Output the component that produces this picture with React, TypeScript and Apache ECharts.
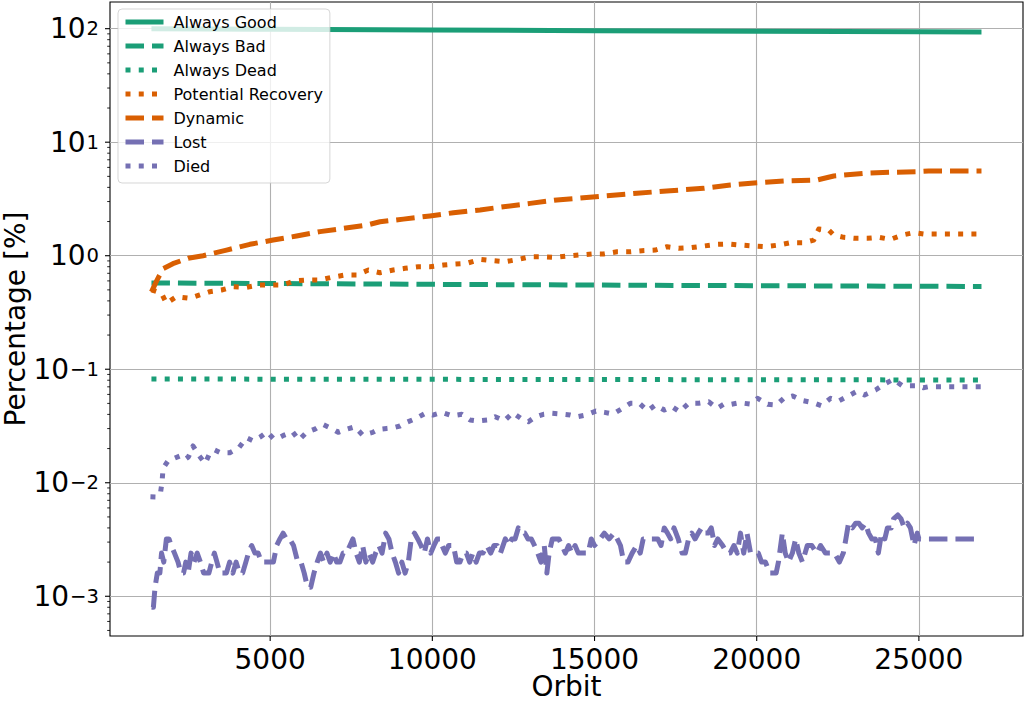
import { useEffect, useRef } from 'react';
import * as echarts from 'echarts';

const FONT = 'DejaVu Sans';
const GREEN = '#1b9e77';
const ORANGE = '#d95f02';
const PURPLE = '#7570b3';

// Axis ranges (orbit number, percentage on a log scale)
const ORBIT_MIN = 62;
const ORBIT_MAX = 28210;
const PCT_MIN = Math.pow(10, -3.35);
const PCT_MAX = Math.pow(10, 2.235);

const orbitTicks = [5000, 10000, 15000, 20000, 25000];
const decadeTicks = [0.001, 0.01, 0.1, 1, 10, 100];
const minorPctTicks = [
  0.0005, 0.0006, 0.0007, 0.0008, 0.0009,
  0.002, 0.003, 0.004, 0.005, 0.006, 0.007, 0.008, 0.009,
  0.02, 0.03, 0.04, 0.05, 0.06, 0.07, 0.08, 0.09,
  0.2, 0.3, 0.4, 0.5, 0.6, 0.7, 0.8, 0.9,
  2, 3, 4, 5, 6, 7, 8, 9,
  20, 30, 40, 50, 60, 70, 80, 90,
];

const seriesNames = [
  'Always Good',
  'Always Bad',
  'Always Dead',
  'Potential Recovery',
  'Dynamic',
  'Lost',
  'Died',
];

// [orbit, percentage]
const alwaysGood = [
  [1340, 99.6], [5000, 98.7], [10000, 97.4], [15000, 96.1], [20000, 95.0], [25000, 93.9], [26930, 93.5],
];
const alwaysBad = [
  [1340, 0.575], [6000, 0.567], [12000, 0.556], [18000, 0.547], [26930, 0.536],
];
const alwaysDead = [
  [1340, 0.082], [14000, 0.0812], [26930, 0.0804],
];
const potentialRecovery = [
  [1340, 0.5], [1648, 0.467], [1802, 0.381], [2111, 0.435], [2522, 0.421], [2830, 0.451],
  [3139, 0.482], [3500, 0.499], [3858, 0.533], [4271, 0.527], [4630, 0.552], [5043, 0.552],
  [5401, 0.552], [5762, 0.602], [6123, 0.611], [6534, 0.611], [6895, 0.645], [7306, 0.676],
  [7667, 0.676], [8025, 0.748], [8386, 0.708], [8796, 0.748], [9157, 0.774], [9568, 0.8],
  [9929, 0.8], [10340, 0.828], [10701, 0.845], [11062, 0.857], [11472, 0.929], [11883, 0.904],
  [12244, 0.885], [12654, 0.929], [13015, 0.98], [13426, 0.98], [13787, 0.968], [14148, 0.994],
  [14506, 1.014], [14920, 1.035], [15278, 1.035], [15691, 1.084], [16102, 1.084], [16463, 1.107],
  [16874, 1.122], [17235, 1.2], [17593, 1.162], [17954, 1.176], [18364, 1.217], [18778, 1.259],
  [19136, 1.268], [19497, 1.242], [19907, 1.217], [20269, 1.2], [20679, 1.242], [21040, 1.301],
  [21451, 1.301], [21759, 1.374], [21914, 1.72], [22222, 1.683], [22376, 1.521], [22685, 1.452],
  [23046, 1.423], [23407, 1.423], [23765, 1.452], [24126, 1.393], [24488, 1.521], [24846, 1.595],
  [25154, 1.553], [26930, 1.553],
];
const dynamic = [
  [1340, 0.48], [1500, 0.6], [1698, 0.77], [2000, 0.85], [2469, 0.95], [2932, 1.0],
  [3654, 1.12], [4374, 1.26], [5093, 1.375], [5815, 1.49], [6534, 1.63], [7253, 1.74],
  [7975, 1.86], [8386, 1.99], [9105, 2.1], [9929, 2.24], [10648, 2.39], [11472, 2.53],
  [12191, 2.7], [13015, 2.89], [13839, 3.1], [14456, 3.2], [15278, 3.36], [16308, 3.55],
  [17336, 3.74], [18364, 3.92], [19188, 4.2], [20012, 4.4], [21040, 4.58], [21864, 4.65],
  [22376, 5.04], [23302, 5.32], [24126, 5.43], [24948, 5.5], [25300, 5.57], [26930, 5.57],
];
const lost = [
  [1340, 0.0008], [1400, 0.0008], [1450, 0.0012], [1520, 0.0016], [1600, 0.0016], [1650, 0.0024],
  [1720, 0.002], [1800, 0.0032], [1880, 0.0032], [1950, 0.0028], [2050, 0.0024], [2160, 0.002],
  [2250, 0.0016], [2330, 0.0016], [2400, 0.002], [2470, 0.0016], [2560, 0.0024], [2650, 0.002],
  [2750, 0.0024], [2850, 0.002], [2950, 0.0016], [3050, 0.0016], [3110, 0.0016], [3200, 0.002],
  [3280, 0.0024], [3360, 0.002], [3450, 0.0016], [3550, 0.0016], [3650, 0.0016], [3750, 0.002],
  [3850, 0.0016], [3950, 0.002], [4050, 0.0016], [4150, 0.0016], [4250, 0.002], [4330, 0.0024],
  [4430, 0.0028], [4530, 0.0024], [4630, 0.0024], [4730, 0.002], [4850, 0.002], [4950, 0.002],
  [5100, 0.002], [5200, 0.0028], [5300, 0.0032], [5400, 0.0036], [5500, 0.0032], [5600, 0.0032],
  [5720, 0.0028], [5850, 0.002], [5950, 0.002], [6050, 0.0016], [6150, 0.0012], [6250, 0.0012],
  [6350, 0.0016], [6450, 0.002], [6550, 0.0024], [6650, 0.002], [6750, 0.0024], [6850, 0.002],
  [6950, 0.0024], [7050, 0.002], [7150, 0.002], [7250, 0.0024], [7350, 0.0024], [7460, 0.0028],
  [7550, 0.0032], [7650, 0.0024], [7750, 0.002], [7850, 0.0028], [7950, 0.002], [8050, 0.0024],
  [8160, 0.002], [8250, 0.0024], [8350, 0.0028], [8450, 0.0024], [8560, 0.0036], [8660, 0.0032],
  [8760, 0.0024], [8860, 0.002], [8960, 0.0016], [9060, 0.002], [9160, 0.0016], [9260, 0.002],
  [9350, 0.0032], [9450, 0.0036], [9550, 0.0032], [9650, 0.0028], [9750, 0.0024], [9850, 0.0032],
  [9950, 0.0024], [10050, 0.0028], [10150, 0.0032], [10250, 0.0032], [10300, 0.0028], [10400, 0.0024],
  [10500, 0.0028], [10650, 0.0028], [10750, 0.002], [10850, 0.002], [10950, 0.0024], [11050, 0.0024],
  [11150, 0.002], [11250, 0.0024], [11350, 0.002], [11450, 0.0024], [11560, 0.0024], [11680, 0.0028],
  [11800, 0.0024], [11900, 0.0028], [12000, 0.0028], [12100, 0.0024], [12250, 0.0032], [12350, 0.0028],
  [12450, 0.0032], [12550, 0.0032], [12650, 0.004], [12750, 0.0036], [12850, 0.0036], [12950, 0.0032],
  [13050, 0.0032], [13150, 0.0028], [13250, 0.0024], [13350, 0.002], [13450, 0.0028], [13530, 0.0016],
  [13600, 0.0024], [13700, 0.0032], [13800, 0.0032], [13900, 0.0032], [14000, 0.0028], [14100, 0.0024],
  [14200, 0.0028], [14300, 0.0024], [14400, 0.0028], [14500, 0.0024], [14600, 0.0024], [14700, 0.0024],
  [14800, 0.0024], [14900, 0.0032], [15000, 0.0028], [15170, 0.0032], [15300, 0.0036], [15450, 0.0032],
  [15600, 0.0036], [15700, 0.0032], [15800, 0.0028], [15900, 0.002], [16030, 0.002], [16160, 0.0024],
  [16300, 0.0028], [16410, 0.0024], [16500, 0.0032], [16650, 0.0032], [16800, 0.0032], [16950, 0.0032],
  [17050, 0.0028], [17150, 0.004], [17250, 0.0036], [17350, 0.0032], [17450, 0.004], [17580, 0.0032],
  [17700, 0.0024], [17800, 0.0024], [17900, 0.0032], [18000, 0.0036], [18100, 0.0032], [18200, 0.0036],
  [18300, 0.004], [18400, 0.0036], [18500, 0.0036], [18600, 0.004], [18700, 0.0028], [18800, 0.0032],
  [18950, 0.0028], [19080, 0.0024], [19180, 0.0024], [19300, 0.0028], [19400, 0.0024], [19500, 0.0036],
  [19600, 0.0024], [19700, 0.0036], [19810, 0.0024], [19950, 0.0024], [20050, 0.0024], [20150, 0.002],
  [20270, 0.002], [20400, 0.0016], [20510, 0.0016], [20600, 0.0016], [20670, 0.002], [20790, 0.0036],
  [20880, 0.0024], [20980, 0.002], [21100, 0.0024], [21200, 0.0032], [21300, 0.0024], [21410, 0.002],
  [21560, 0.0028], [21700, 0.0028], [21850, 0.0024], [21970, 0.0028], [22120, 0.0024], [22250, 0.0024],
  [22400, 0.0024], [22550, 0.002], [22670, 0.0024], [22750, 0.0032], [22830, 0.0044], [22950, 0.004],
  [23050, 0.0044], [23150, 0.0044], [23250, 0.004], [23350, 0.0044], [23450, 0.0036], [23550, 0.0032],
  [23660, 0.0032], [23750, 0.0024], [23850, 0.0036], [23950, 0.0032], [24030, 0.004], [24150, 0.004],
  [24220, 0.0048], [24350, 0.0052], [24450, 0.0048], [24550, 0.004], [24650, 0.0044], [24740, 0.004],
  [24850, 0.0028], [24950, 0.0036], [25000, 0.0032], [26930, 0.0032],
];
const died = [
  [1309, 0.00753], [1494, 0.0075], [1617, 0.00806], [1667, 0.0102], [1698, 0.0134], [1852, 0.0156],
  [2037, 0.0164], [2235, 0.0173], [2377, 0.0161], [2481, 0.0169], [2623, 0.0211], [2809, 0.0173],
  [2994, 0.0148], [3139, 0.0182], [3293, 0.0194], [3469, 0.0184], [3756, 0.0184], [4034, 0.0203],
  [4272, 0.0249], [4475, 0.0234], [4704, 0.0254], [4907, 0.0281], [5093, 0.0246], [5228, 0.0246],
  [5432, 0.0263], [5691, 0.0281], [5886, 0.0238], [6123, 0.0278], [6380, 0.0297], [6617, 0.0327],
  [6926, 0.0297], [7099, 0.0278], [7377, 0.0297], [7614, 0.0311], [7852, 0.0263], [8160, 0.0278],
  [8333, 0.0295], [8593, 0.0301], [8796, 0.0305], [9003, 0.0316], [9210, 0.0341], [9497, 0.0369],
  [9775, 0.0408], [10012, 0.0395], [10290, 0.0417], [10599, 0.0389], [10907, 0.0401], [11164, 0.0357],
  [11389, 0.035], [11698, 0.0357], [11935, 0.0382], [12222, 0.0352], [12481, 0.0414], [12728, 0.0369],
  [12963, 0.0345], [13148, 0.0377], [13426, 0.0401], [13685, 0.0409], [13963, 0.0403], [14250, 0.0395],
  [14475, 0.0382], [14734, 0.0395], [15043, 0.0428], [15309, 0.0417], [15568, 0.0403], [15824, 0.0446],
  [16102, 0.0501], [16380, 0.0501], [16636, 0.0431], [16874, 0.0484], [17151, 0.0437], [17389, 0.0467],
  [17623, 0.0422], [17901, 0.0501], [18210, 0.0501], [18519, 0.0517], [18778, 0.0453], [18981, 0.0491],
  [19219, 0.0491], [19475, 0.0507], [19784, 0.0494], [20031, 0.0554], [20340, 0.0491], [20608, 0.0484],
  [20833, 0.0554], [21111, 0.0581], [21432, 0.0528], [21741, 0.0507], [21997, 0.0477], [22275, 0.0554],
  [22531, 0.0525], [22821, 0.0581], [23068, 0.0634], [23324, 0.0593], [23664, 0.0656], [23941, 0.0741],
  [24210, 0.0815], [24488, 0.0716], [24744, 0.0716], [24981, 0.0716], [25136, 0.0687], [25300, 0.0701],
  [26930, 0.0701],
];

const DASHED = [18.5, 8];
const DOTTED = [5, 8.25];

function lineSeries(name: string, data: number[][], color: string, dash: any) {
  return {
    name,
    type: 'line',
    data,
    symbol: 'none',
    showSymbol: false,
    silent: true,
    emphasis: { disabled: true },
    itemStyle: { color },
    lineStyle: { color, width: 5, type: dash, cap: 'butt', join: 'round' },
  };
}

// Tick marks drawn on the outside of the frame, placed through the axes' own scales
function tickSeries(data: number[][], horizontal: boolean) {
  return {
    type: 'custom',
    silent: true,
    clip: false,
    z: 5,
    data,
    encode: { x: 0, y: 1 },
    renderItem: (_params: any, api: any) => {
      const p = api.coord([api.value(0), api.value(1)]);
      const len = api.value(2);
      const shape = horizontal
        ? { x1: p[0], y1: p[1], x2: p[0], y2: p[1] + len }
        : { x1: p[0] - len, y1: p[1], x2: p[0], y2: p[1] };
      return {
        type: 'line',
        shape,
        style: { stroke: '#000', lineWidth: len > 4 ? 1.1 : 0.85 },
      };
    },
  };
}

function powerLabel(v: number) {
  const e = Math.log10(v);
  const r = Math.round(e);
  if (Math.abs(e - r) > 1e-6) return '';
  const exp = r < 0 ? '\u2212' + -r : String(r);
  return `{b|10}{s|${exp}}`;
}

export default function App() {
  const ref = useRef<HTMLDivElement>(null);

  useEffect(() => {
    if (!ref.current) return;
    const chart = echarts.init(ref.current, null, { renderer: 'svg' });

    const yTickData = [
      ...decadeTicks.map((v) => [ORBIT_MIN, v, 5]),
      ...minorPctTicks.map((v) => [ORBIT_MIN, v, 2.8]),
    ];
    const xTickData = orbitTicks.map((v) => [v, PCT_MIN, 5]);

    chart.setOption({
      animation: false,
      textStyle: { fontFamily: FONT, color: '#000' },
      grid: {
        left: 110,
        right: 2,
        top: 2,
        bottom: 67,
        containLabel: false,
        outerBoundsMode: 'none',
        show: true,
        borderColor: '#000',
        borderWidth: 1.1,
        backgroundColor: 'transparent',
      },
      legend: {
        data: seriesNames,
        orient: 'vertical',
        left: 118,
        top: 9,
        itemWidth: 38,
        itemHeight: 14,
        itemGap: 8,
        padding: [5, 7, 9, 5],
        selectedMode: false,
        backgroundColor: 'rgba(255,255,255,0.8)',
        borderColor: 'rgba(204,204,204,0.8)',
        borderWidth: 1,
        borderRadius: 4,
        itemStyle: { opacity: 0, borderWidth: 0 },
        lineStyle: { width: 5, cap: 'butt' },
        textStyle: { fontFamily: FONT, fontSize: 16, color: '#000', lineHeight: 16, padding: [0, 0, 0, 5] },
      },
      xAxis: {
        type: 'value',
        min: ORBIT_MIN,
        max: ORBIT_MAX,
        axisLine: { show: false },
        axisTick: { show: false },
        splitLine: {
          show: true,
          showMinLine: false,
          showMaxLine: false,
          lineStyle: { color: '#b0b0b0', width: 1.1 },
        },
        axisLabel: {
          showMinLabel: false,
          showMaxLabel: false,
          margin: 11,
          fontSize: 28,
          lineHeight: 24,
          fontFamily: FONT,
          color: '#000',
          formatter: (v: number) => (v % 5000 === 0 ? String(v) : ''),
        },
        name: 'Orbit',
        nameLocation: 'middle',
        nameMoveOverlap: false,
        nameGap: 38,
        nameTextStyle: { fontSize: 28, lineHeight: 24, fontFamily: FONT, color: '#000' },
      },
      yAxis: {
        type: 'log',
        logBase: 10,
        min: PCT_MIN,
        max: PCT_MAX,
        axisLine: { show: false },
        axisTick: { show: false },
        splitLine: {
          show: true,
          showMinLine: false,
          showMaxLine: false,
          lineStyle: { color: '#b0b0b0', width: 1.1 },
        },
        axisLabel: {
          showMinLabel: false,
          showMaxLabel: false,
          margin: 11,
          formatter: powerLabel,
          rich: {
            b: { fontSize: 28, fontFamily: FONT, color: '#000', lineHeight: 28, padding: [8, 0, 8, 0] },
            s: { fontSize: 19.6, fontFamily: FONT, color: '#000', lineHeight: 20, padding: [4, 0, 0, 1], verticalAlign: 'top' },
          },
        },
        name: 'Percentage [%]',
        nameLocation: 'middle',
        nameMoveOverlap: false,
        nameGap: 81,
        nameRotate: 90,
        nameTextStyle: { fontSize: 28, lineHeight: 28, fontFamily: FONT, color: '#000' },
      },
      series: [
        lineSeries('Always Good', alwaysGood, GREEN, 'solid'),
        lineSeries('Always Bad', alwaysBad, GREEN, DASHED),
        lineSeries('Always Dead', alwaysDead, GREEN, DOTTED),
        lineSeries('Potential Recovery', potentialRecovery, ORANGE, DOTTED),
        lineSeries('Dynamic', dynamic, ORANGE, DASHED),
        lineSeries('Lost', lost, PURPLE, DASHED),
        lineSeries('Died', died, PURPLE, DOTTED),
        tickSeries(yTickData, false),
        tickSeries(xTickData, true),
      ],
    });

    return () => chart.dispose();
  }, []);

  return (
    <div
      ref={ref}
      style={{ position: 'absolute', left: 0, top: 0, width: 1025, height: 703, background: '#fff' }}
    />
  );
}
